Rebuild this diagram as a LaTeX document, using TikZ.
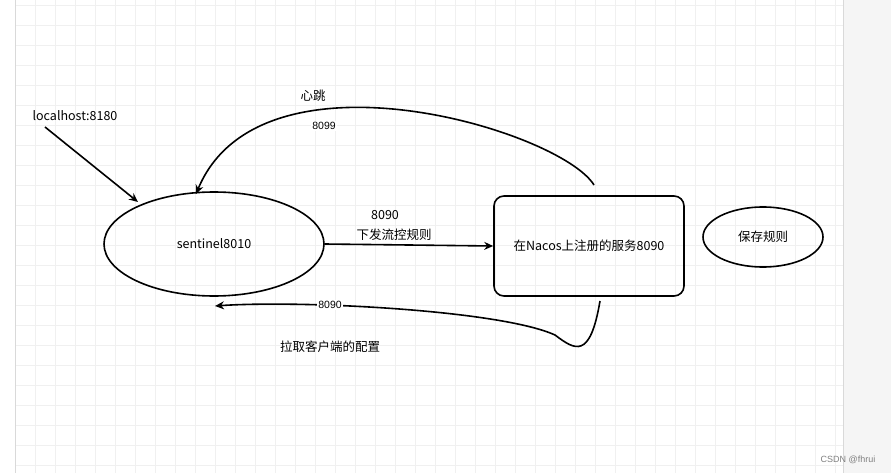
\documentclass[tikz,border=0pt]{standalone}
\usepackage{fontspec}
\usetikzlibrary{shapes.geometric,arrows.meta}
\setmainfont{Liberation Sans}
\newfontfamily\cjk{Noto Sans CJK SC}
\begin{document}
\begin{tikzpicture}[x=1pt,y=-1pt,
  lbl/.style={font=\cjk\fontsize{12.5}{14}\selectfont,inner sep=1pt},
  sm/.style={font=\fontsize{10.5}{12}\selectfont,inner sep=1pt,fill=white},
  conn/.style={line width=1.6pt,-{Stealth[length=9pt,width=8pt]}}]
\useasboundingbox (0,0) rectangle (891,473);
\fill[white] (0,0) rectangle (891,473);
\fill[gray!8] (843,0) rectangle (891,473);
\foreach \x in {15,35,...,835} \draw[gray!12] (\x,0) -- (\x,473);
\foreach \y in {5,25,...,465} \draw[gray!12] (15,\y) -- (843,\y);
\draw[gray!30] (15,0) -- (15,473);
\draw[gray!30] (843,0) -- (843,473);
\node[draw,line width=1.6pt,ellipse,minimum width=220pt,minimum height=104pt,lbl] (s) at (214,244) {sentinel8010};
\node[draw,line width=1.6pt,rounded corners=10pt,minimum width=190pt,minimum height=100pt,lbl] (n) at (589,246) {在Nacos上注册的服务8090};
\node[draw,line width=1.6pt,ellipse,minimum width=120pt,minimum height=60pt,lbl] (b) at (763,237) {保存规则};
\node[lbl] (lh) at (75,116) {localhost:8180};
\coordinate (lhs) at (45,127);
\draw[conn] (lhs) -- (138,202);
\coordinate (ts) at (594,185);
\draw[conn] (ts) .. controls (560,130) and (260,40) .. (196,194);
\node[lbl] at (313,96) {心跳};
\node[sm] at (324,126) {8099};
\draw[conn] (s.east) -- (n.west);
\node[lbl] at (385,215) {8090};
\node[lbl] at (394,235) {下发流控规则};
\coordinate (bs) at (600,301);
\draw[conn] (bs) .. controls (590,360) and (575,350) .. (555,335) .. controls (500,310) and (300,300) .. (215,306);
\node[sm] at (330,305) {8090};
\node[lbl] at (330,347) {拉取客户端的配置};
\node[font=\fontsize{9}{11}\selectfont,text=gray] at (848,460) {CSDN @fhrui};
\end{tikzpicture}
\end{document}
